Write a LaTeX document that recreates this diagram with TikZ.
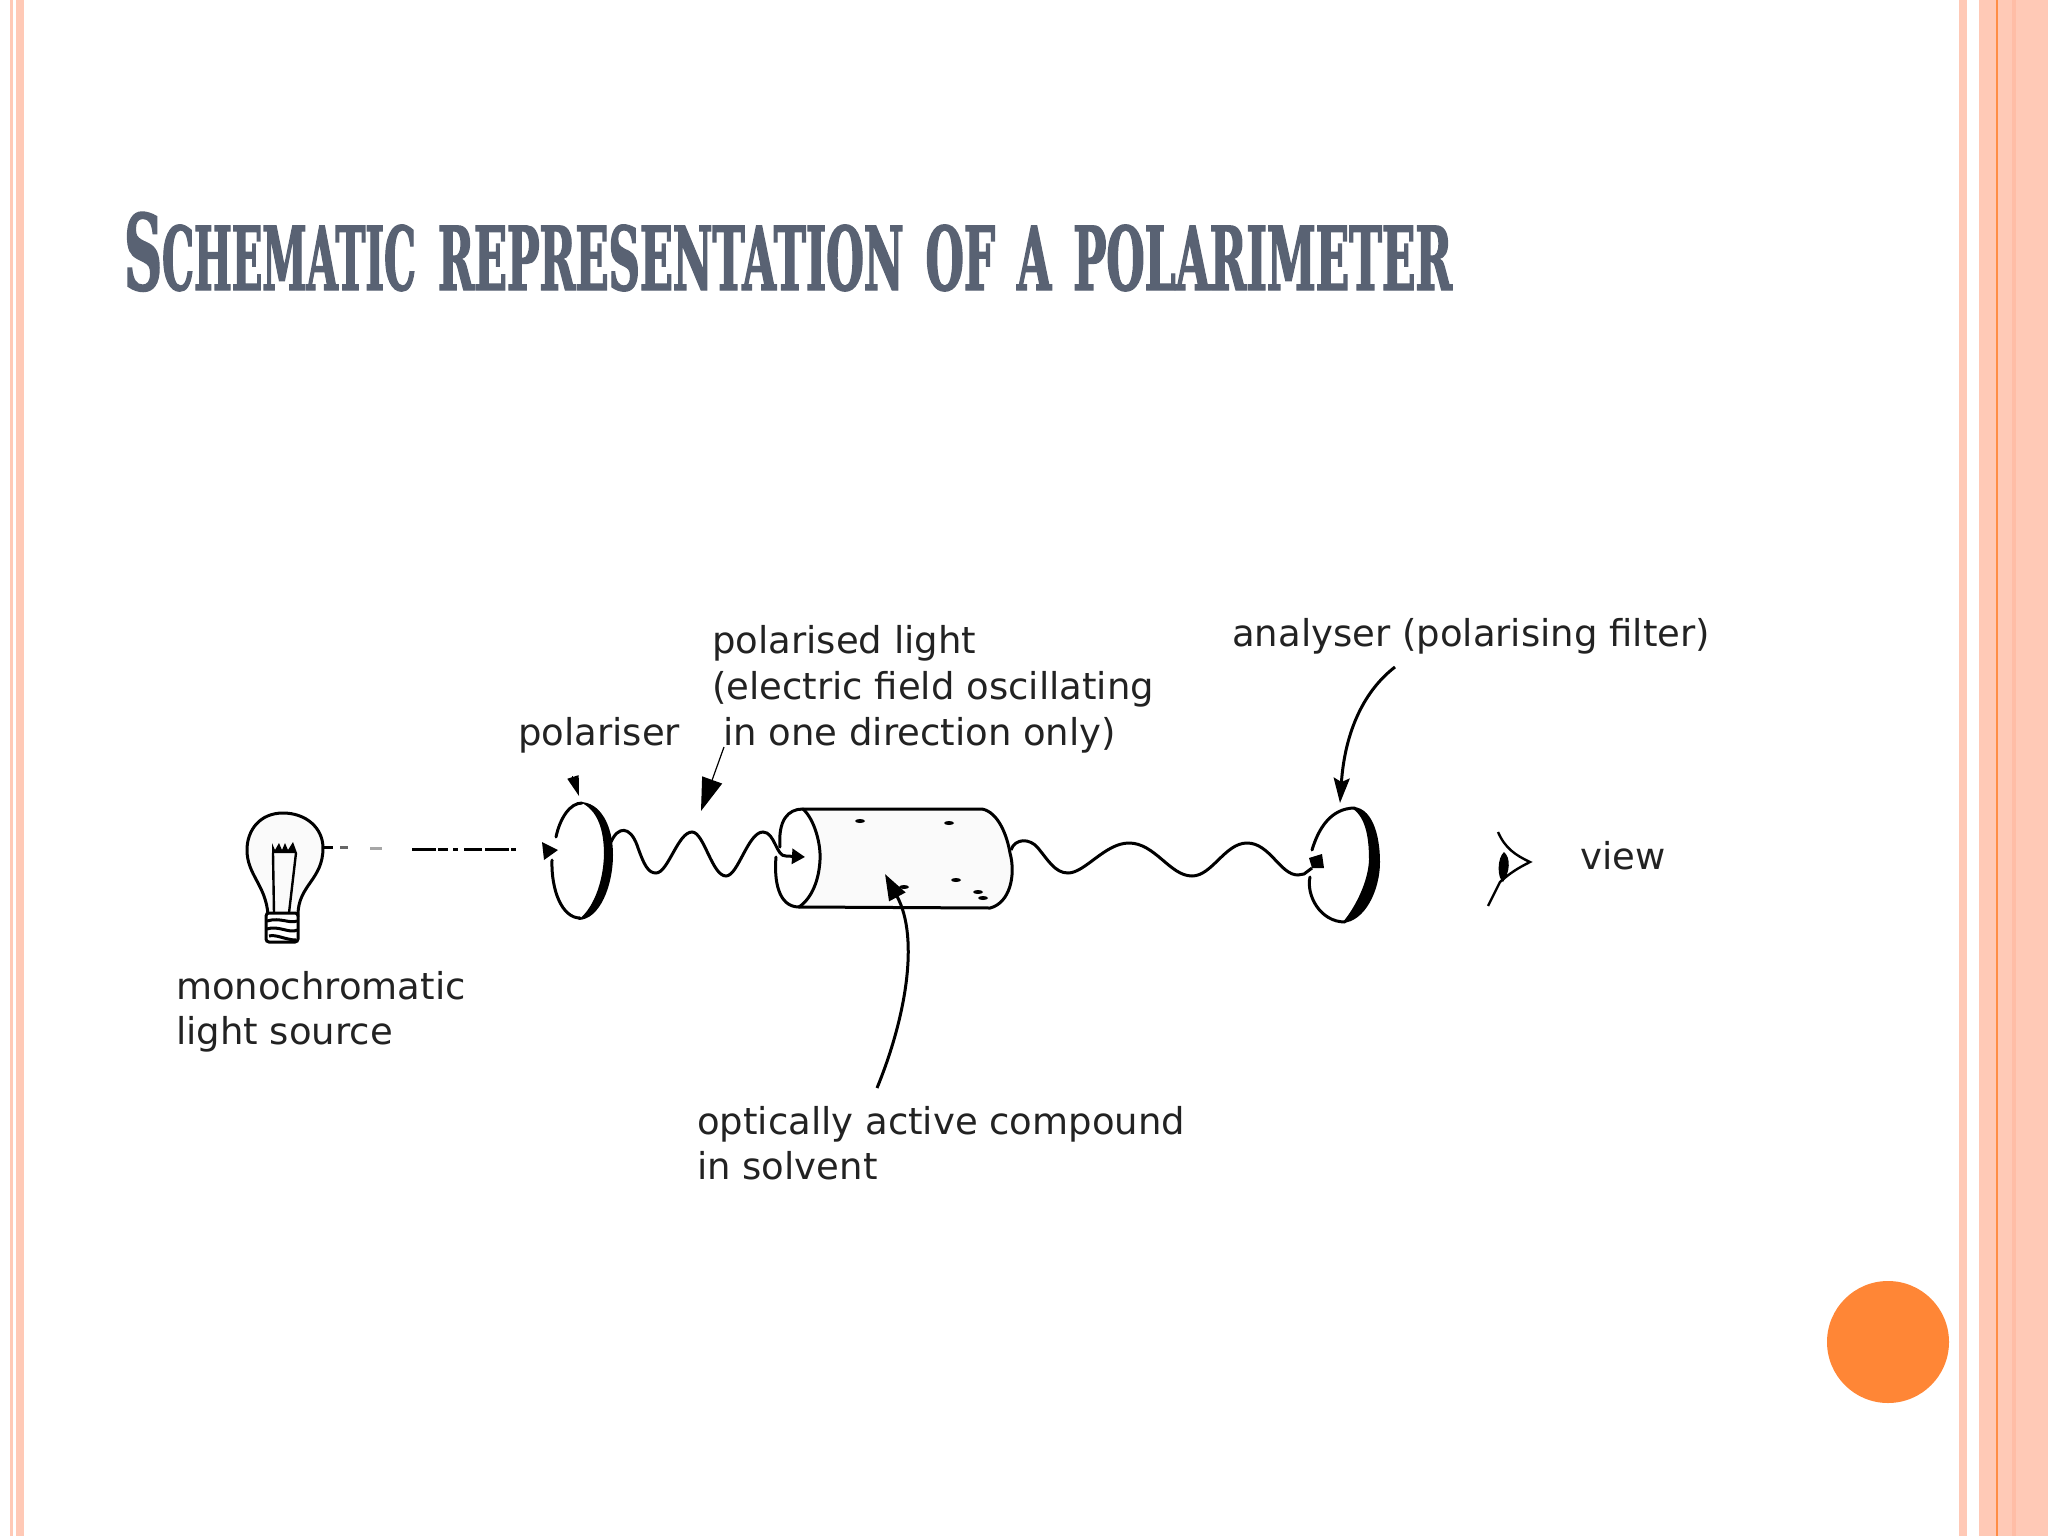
\documentclass[tikz,border=0pt]{standalone}
\usepackage{fontspec}
\usetikzlibrary{arrows.meta}
\setmainfont{DejaVu Sans}
\newfontfamily\titlefont[FakeStretch=.5,FakeBold=1.5]{DejaVu Serif}
\definecolor{barpeach}{HTML}{FFC9B6}
\definecolor{barband}{HTML}{FFBDA6}
\definecolor{barline}{HTML}{FF8D45}
\definecolor{dotorange}{HTML}{FF8636}
\definecolor{titlegrey}{HTML}{596273}
\definecolor{inkgrey}{HTML}{222222}
\definecolor{glassgrey}{HTML}{FAFAFA}
\begin{document}
\begin{tikzpicture}
      [ x = 1pt
      , y = -1pt
      , label/.style =
        { anchor = base west, inner sep = 0pt, text = inkgrey, font = \fontsize{37}{45}\selectfont, align = left }
      , heading/.style =
        { anchor = base west, inner sep = 0pt, text = titlegrey, font = \titlefont\bfseries\fontsize{88}{88}\selectfont }
      , bar/.style =
        { fill = barpeach, draw = none }
      , outline/.style =
        { line width = 3pt, black, line cap = round }
      , pointer/.style =
        { line width = 3pt, black }
      , wave/.style =
        { line width = 3pt, black }
      ]
      \useasboundingbox (0, 0) rectangle (2048, 1536);
      \fill [white] (0, 0) rectangle (2048, 1536);
      \fill [bar] (10, 0) rectangle (13, 1536);
      \fill [bar] (16, 0) rectangle (24, 1536);
      \fill [bar] (1959, 0) rectangle (1967, 1536);
      \fill [bar] (1979, 0) rectangle (2048, 1536);
      \fill [barband] (2012, 0) rectangle (2016, 1536);
      \fill [barline] (1996, 0) rectangle (1998, 1536);
      \node [circle, fill = dotorange, minimum size = 122pt, inner sep = 0pt] (dot) at (1888, 1342) {};

      \node [heading] (title) at (124, 290)
        {\spaceskip=22pt{\fontsize{105}{105}\selectfont S}\scalebox{.91}[1]{CHEMATIC} \scalebox{.985}[1]{REPRESENTATION} OF A POLARIMETER};
      \node [label] (source) at (176, 1044) {monochromatic\\light source};
      \node [label] (polariser) at (518, 745) {polariser};
      \node [label] (light) at (712, 653) {polarised light};
      \node [label] (field) at (712, 699) {(electric field oscillating};
      \node [label] (direction) at (723, 745) {in one direction only)};
      \node [label] (analyser) at (1232, 646) {analyser (polarising filter)};
      \node [label] (viewer) at (1580, 869) {view};
      \node [label] (compound) at (697, 1179) {optically active compound\\in solvent};

      \coordinate (bulbout) at (323, 847);
      \coordinate (ringin) at (558, 850);
      \coordinate (ringout) at (611, 842);
      \coordinate (cellin) at (805, 857);
      \coordinate (cellout) at (1011, 850);
      \coordinate (filterin) at (1312, 868);
      \coordinate (lighttail) at (724, 747);
      \coordinate (lighttip) at (701, 811);
      \coordinate (ringtail) at (573, 777);
      \coordinate (ringtip) at (579, 796);
      \coordinate (filtertail) at (1395, 667);
      \coordinate (filtertip) at (1340, 803);
      \coordinate (celltail) at (877, 1088);
      \coordinate (celltip) at (885, 874);

      \draw [outline, fill = glassgrey]
        (283, 813) .. controls (260, 813) and (247, 830) .. (247, 850)
        .. controls (247, 875) and (266, 885) .. (268, 915)
        -- (298, 915) .. controls (298, 885) and (323, 880) .. (323, 848)
        .. controls (323, 828) and (306, 813) .. (283, 813) -- cycle;
      \draw [outline, fill = white, rounded corners = 3pt] (266, 913) rectangle (298, 942);
      \draw [black, line width = 3pt] (267, 921) .. controls (280, 917) and (290, 924) .. (297, 921);
      \draw [black, line width = 3pt] (267, 929) .. controls (278, 925) and (290, 934) .. (297, 930);
      \draw [black, line width = 3pt] (269, 936) .. controls (276, 934) and (286, 940) .. (296, 940);
      \fill [black] (272, 843) -- (275, 850) -- (279, 843) -- (282, 850) -- (285, 843) -- (288, 850)
        -- (293, 842) -- (297, 853) -- (272, 853) -- cycle;
      \draw [outline, line width = 2.4pt] (273, 853) -- (274, 913);
      \draw [outline, line width = 2.4pt] (296, 853) -- (289, 913);

      \draw [line width = 3pt, black] (bulbout) -- (333, 847);
      \draw [line width = 3pt, black!60] (340, 847) -- (348, 847);
      \draw [line width = 3pt, black!35] (370, 848) -- (382, 848);
      \draw [line width = 3pt, black, dash pattern = on 24pt off 2pt on 10pt off 5pt on 5pt off 6pt on 18pt off 3pt]
        (412, 849) -- (516, 849);
      \fill [black] (ringin) -- (542, 842) -- (544, 860) -- cycle;

      \draw [outline] (556, 837) .. controls (560, 818) and (570, 803) .. (582, 803);
      \draw [outline] (552, 860) .. controls (551, 890) and (562, 918) .. (580, 918);
      \fill [black] (580, 802) .. controls (600, 802) and (613, 825) .. (613, 855)
        .. controls (613, 885) and (600, 920) .. (578, 920)
        .. controls (592, 910) and (603, 885) .. (604, 855)
        .. controls (604, 830) and (598, 810) .. (580, 802) -- cycle;
      \draw [-{Triangle[length = 20pt, width = 12pt]}, line width = 0pt] (ringtail) -- (ringtip);

      \draw [wave, -{Triangle[length = 13pt, width = 15pt]}] (ringout)
        .. controls (618, 826) and (630, 826) .. (637, 845)
        .. controls (644, 865) and (648, 873) .. (656, 873)
        .. controls (668, 873) and (678, 832) .. (692, 832)
        .. controls (704, 832) and (712, 876) .. (726, 876)
        .. controls (738, 876) and (748, 832) .. (763, 832)
        .. controls (775, 832) and (776, 857) .. (786, 856)
        -- (cellin);
      \draw [pointer, line width = 1.2pt, -{Triangle[length = 33pt, width = 21pt]}] (lighttail) -- (lighttip);

      \fill [glassgrey] (803, 809) -- (982, 809) .. controls (998, 812) and (1007, 835) .. (1010, 853)
        .. controls (1016, 875) and (1010, 903) .. (990, 908) -- (799, 907)
        .. controls (812, 898) and (819, 880) .. (820, 860)
        .. controls (821, 845) and (815, 820) .. (803, 809) -- cycle;
      \draw [outline] (803, 809) -- (982, 809) .. controls (998, 812) and (1007, 835) .. (1010, 853)
        .. controls (1016, 875) and (1010, 903) .. (990, 908) -- (799, 907);
      \draw [outline] (803, 809) .. controls (815, 820) and (821, 845) .. (820, 860)
        .. controls (819, 880) and (812, 898) .. (799, 907);
      \draw [outline] (803, 809) .. controls (788, 809) and (778, 820) .. (780, 847);
      \draw [outline] (776, 857) .. controls (774, 880) and (778, 907) .. (799, 907);
      \foreach \speck in {(860, 821), (949, 823), (904, 887), (956, 880), (978, 892), (983, 898)}
        \fill [black] \speck ellipse (5pt and 2pt);

      \draw [pointer, -{Triangle[length = 26pt, width = 18pt]}] (celltail)
        .. controls (905, 1020) and (920, 939) .. (celltip);

      \draw [wave] (cellout) .. controls (1015, 838) and (1030, 838) .. (1038, 848)
        .. controls (1048, 860) and (1055, 873) .. (1068, 873)
        .. controls (1085, 873) and (1105, 843) .. (1129, 843)
        .. controls (1155, 843) and (1170, 876) .. (1192, 876)
        .. controls (1212, 876) and (1225, 843) .. (1247, 843)
        .. controls (1270, 843) and (1280, 875) .. (1298, 875)
        -- (1304, 874) -- (filterin);

      \draw [outline] (1312, 850) .. controls (1318, 830) and (1330, 808) .. (1355, 808);
      \draw [outline] (1310, 877) .. controls (1306, 895) and (1320, 922) .. (1345, 922);
      \fill [black] (1350, 807) .. controls (1372, 805) and (1380, 835) .. (1380, 862)
        .. controls (1380, 890) and (1365, 922) .. (1342, 923)
        .. controls (1352, 912) and (1368, 885) .. (1369, 860)
        .. controls (1369, 835) and (1365, 815) .. (1350, 807) -- cycle;
      \fill [black] (1309, 858) -- (1322, 854) -- (1324, 868) -- (1312, 868) -- cycle;

      \draw [pointer, -{Stealth[length = 25pt, width = 16pt, inset = 4pt]}] (filtertail)
        .. controls (1365, 690) and (1345, 730) .. (filtertip);

      \draw [line width = 2.4pt, black] (1498, 832) .. controls (1505, 848) and (1515, 855) .. (1530, 862)
        .. controls (1518, 868) and (1510, 873) .. (1500, 882) -- (1488, 906);
      \fill [black] (1504, 852) .. controls (1511, 858) and (1510, 872) .. (1503, 882)
        .. controls (1497, 878) and (1497, 858) .. (1504, 852) -- cycle;
    \end{tikzpicture}
\end{document}
